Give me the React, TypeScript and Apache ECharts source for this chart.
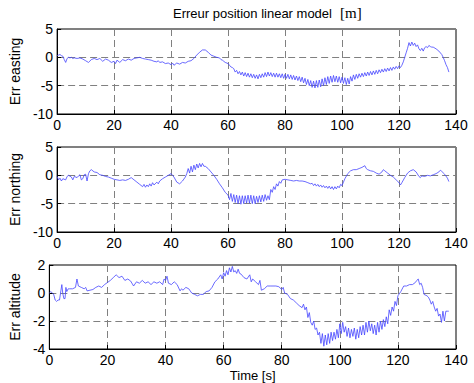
import React, { useEffect, useRef } from "react";
import * as echarts from "echarts";

const xTicks = [0, 20, 40, 60, 80, 100, 120, 140];

const easting: [number, number][] = [
  [0,0.3],[0.5,0.4],[1,0.5],[1.5,0.3],[2,0.2],[2.5,-0.4],[3,-0.9],[3.5,-0.2],[4,0.0],[4.5,-0.1],[5,0.0],[5.5,-0.2],[6,-0.1],[7,-0.2],[8,-0.1],[9,-0.3],[10,-0.6],[11,-0.9],[12,-0.4],[13,-0.2],[14,-0.4],[15,-0.2],[16,-0.7],[17,-0.3],[18,-0.5],[19,-0.9],[20,-0.7],[20.5,-1.1],[21,-0.5],[22,-0.9],[23,-0.4],[24,-0.6],[25,-0.3],[26,-0.5],[27,-0.2],[28,-0.1],[29,0.0],[30,-0.2],[31,-0.3],[32,-0.4],[33,-0.5],[34,-0.7],[35,-0.8],[35.5,-0.6],[36,-0.9],[37,-0.8],[38,-1.1],[39,-1.0],[40,-1.3],[40.5,-1.0],[41,-1.4],[42,-1.0],[43,-1.2],[44,-0.9],[45,-1.0],[46,-0.7],[47,-0.6],[48,-0.2],[49,0.4],[50,0.9],[51,1.3],[52,1.3],[53,0.9],[54,0.4],[55,0.2],[56,0.0],[57,-0.1],[57.5,-0.4],[58,-0.5],[58.5,-0.7],[59,-0.9],[60,-1.1],[60.5,-1.4],[61,-1.7],[61.5,-1.8],
  [62,-2.0],[62.5,-2.6],[63,-2.3],[63.5,-2.9],[64,-2.5],[64.5,-3.1],[65,-2.6],[65.5,-3.3],[66,-2.7],[66.5,-3.4],[67,-2.8],[67.5,-3.5],[68,-2.9],[68.5,-3.6],[69,-3.0],[69.5,-3.7],[70,-3.1],[70.5,-3.8],[71,-3.0],[71.5,-3.6],[72,-2.9],[72.5,-3.5],[73,-2.7],[73.5,-3.4],[74,-2.6],[74.5,-3.3],[75,-2.7],[75.5,-3.4],[76,-2.8],[76.5,-3.5],[77,-2.8],[77.5,-3.5],[78,-2.9],[78.5,-3.6],[79,-2.9],[79.5,-3.7],[80,-3.0],[80.5,-3.7],[81,-3.0],[81.5,-3.8],[82,-3.1],[82.5,-3.9],[83,-3.2],[83.5,-4.0],[84,-3.3],[84.5,-4.1],[85,-3.4],[85.5,-4.3],[86,-3.5],[86.5,-4.5],[87,-3.7],[87.5,-4.8],[88,-3.9],[88.5,-5.0],[89,-4.1],[89.5,-5.3],[90,-4.2],[90.5,-5.4],[91,-4.1],[91.5,-5.3],[92,-4.0],[92.5,-5.2],[93,-3.8],[93.5,-5.0],[94,-3.6],[94.5,-4.8],[95,-3.4],[95.5,-4.6],[96,-3.3],[96.5,-4.4],[97,-3.2],[97.5,-4.3],[98,-3.3],[98.5,-4.4],[99,-3.4],[99.5,-4.5],[100,-3.5],[100.5,-4.6],[101,-3.6],[101.5,-4.8],[102,-3.7],[102.5,-4.7],[103,-3.4],[103.5,-4.2],[104,-3.1],[104.5,-3.9],[105,-3.0],[105.5,-3.7],[106,-2.9],[106.5,-3.5],[107,-2.8],[107.5,-3.4],[108,-2.7],[108.5,-3.3],[109,-2.6],[109.5,-3.2],[110,-2.5],[110.5,-3.1],[111,-2.4],[111.5,-3.0],[112,-2.3],[112.5,-2.9],[113,-2.2],[113.5,-2.7],[114,-2.1],[114.5,-2.6],[115,-2.0],[115.5,-2.5],[116,-1.9],[116.5,-2.4],[117,-1.8],[117.5,-2.3],[118,-1.7],[118.5,-2.1],[119,-1.6],[119.5,-2.0],[120,-1.5],[120.5,-1.8],[121,-1.4],
  [121.5,-0.8],[122,0.0],[122.5,0.8],[123,1.6],[123.5,2.6],[124,2.0],[124.5,2.7],[125,2.1],[125.5,2.5],[126,1.9],[126.5,2.2],[127,1.5],[127.5,1.2],[128,1.6],[128.5,1.1],[129,1.7],[129.5,1.9],[130,1.7],[130.5,2.1],[131,1.9],[131.5,1.8],[132,1.8],[133,1.5],[134,1.1],[135,0.5],[135.5,0.0],[136,-0.6],[136.5,-1.3],[137,-1.8],[137.5,-2.6]
];

const northing: [number, number][] = [
  [0,-0.2],[0.5,-0.8],[1,-0.5],[1.5,-1.0],[2,-0.6],[3,-0.8],[3.5,-0.2],[4,0.0],[5,-0.3],[5.5,-0.8],[6,-0.2],[7,-0.4],[7.5,-0.1],[8,0.1],[8.5,-0.8],[9,-0.6],[9.5,0.1],[10,0.2],[10.5,-1.0],[11,0.3],[11.5,0.8],[12,1.0],[13,0.6],[14,0.5],[15,0.1],[16,0.0],[17,-0.2],[18,-0.3],[19,-0.5],[20,-0.7],[21,-0.8],[22,-0.9],[23,-0.8],[24,-0.9],[25,-0.7],[26,-0.4],[27,-0.8],[28,-1.2],[29,-1.6],[30,-2.0],[30.5,-1.6],[31,-2.1],[31.5,-1.7],[32,-2.0],[32.5,-1.5],[33,-1.9],[33.5,-1.3],[34,-1.7],[35,-1.2],[35.5,-1.5],[36,-1.0],[37,-0.6],[38,-0.3],[39,0.0],[40,0.3],[40.5,0.0],[41,-0.3],[42,-1.2],[43,-1.5],[44,-1.0],[45,-0.3],[45.5,0.3],
  [46,1.2],[46.5,0.4],[47,1.6],[47.5,0.6],[48,1.8],[48.5,1.0],[49,2.0],[49.5,1.3],[50,2.1],[50.5,1.5],[51,2.1],[51.5,1.6],[52,1.6],[53,1.2],[54,0.6],[55,0.0],[56,-0.7],[57,-1.5],[58,-2.2],[59,-3.0],[60,-3.5],
  [60.5,-4.3],[61,-3.2],[61.5,-4.6],[62,-3.4],[62.5,-4.8],[63,-3.5],[63.5,-5.0],[64,-3.6],[64.5,-5.1],[65,-3.6],[65.5,-5.0],[66,-3.6],[66.5,-4.9],[67,-3.5],[67.5,-4.9],[68,-3.5],[68.5,-5.0],[69,-3.6],[69.5,-5.0],[70,-3.7],[70.5,-4.8],[71,-3.6],[71.5,-4.7],[72,-3.5],[72.5,-4.6],[73,-3.4],[73.5,-4.4],[74,-3.6],[74.5,-4.3],[75,-2.5],[75.5,-3.0],[76,-2.0],[76.5,-2.5],[77,-1.5],[77.5,-1.9],[78,-1.1],[78.5,-1.4],[79,-0.8],[80,-0.7],[81,-0.8],[82,-0.9],[83,-1.0],[84,-0.9],[85,-1.0],[86,-1.0],[87,-1.1],[88,-1.3],[89,-1.5],
  [89.5,-1.4],[90,-1.8],[90.5,-1.5],[91,-1.9],[91.5,-1.6],[92,-2.0],[92.5,-1.7],[93,-2.1],[93.5,-1.8],[94,-2.2],[94.5,-1.9],[95,-2.3],[95.5,-1.9],[96,-2.4],[96.5,-2.0],[97,-2.5],[97.5,-2.0],[98,-2.4],[98.5,-1.9],[99,-2.2],[99.5,-1.6],[100,-1.8],[100.5,-1.2],[101,-0.6],[102,0.3],[103,0.8],[104,1.0],[105,1.0],[106,1.2],[107,1.4],[108,1.7],[108.5,1.2],[109,1.0],[110,0.8],[111,0.7],[112,0.4],[113,0.2],[114,0.6],[114.5,1.0],[115,0.8],[116,0.4],[117,0.0],[118,-0.3],[119,-0.8],[120,-1.3],[120.5,-1.7],[121,-1.3],[122,-0.4],[123,0.4],[124,0.8],[125,1.0],[126,0.6],[127,-0.2],[127.5,-0.4],[128,-0.1],[129,-0.2],[130,0.0],[131,-0.1],[132,0.1],[133,0.3],[134,0.6],[134.5,0.9],[135,0.7],[136,0.2],[137,-0.5],[137.5,-1.1]
];

const altitude: [number, number][] = [
  [0,0.0],[0.5,0.1],[1,0.0],[1.5,-0.1],[2,-0.5],[2.5,-0.6],[3,-0.5],[3.5,-0.5],[4,0.2],[4.3,0.6],[4.6,0.0],[5,-0.4],[5.4,-0.4],[5.7,0.4],[6,0.1],[6.5,0.3],[7,0.3],[8,0.3],[9,0.4],[9.5,1.0],[10,0.5],[11,0.4],[12,0.3],[12.5,0.4],[13,0.15],[14,0.2],[15,0.25],[16,0.4],[17,0.5],[18,0.4],[19,0.6],[20,0.75],[21,0.9],[22,1.1],[23,1.3],[24,1.1],[25,1.2],[26,0.9],[27,1.0],[28,0.85],[29,0.5],[30,0.8],[31,0.7],[32,0.9],[33,0.7],[34,0.8],[35,0.6],[36,0.8],[37,0.7],[38,0.8],[39,0.6],[39.5,1.0],[40,0.9],[40.5,1.2],[41,0.7],[42,0.6],[43,0.8],[44,0.6],[45,0.15],[45.5,0.3],[46,0.2],[47,0.4],[48,0.3],[49,0.0],[50,-0.1],[51,-0.2],[52,-0.1],[53,-0.1],[54,0.1],[55,0.15],[56,0.4],[57,0.8],[58,1.0],[59,1.3],[59.5,1.0],[60,1.45],[60.5,1.2],[61,1.6],[61.5,1.3],[62,1.8],[62.5,1.5],[63,1.9],[63.5,1.5],[64,1.6],[64.5,1.4],[65,1.7],[65.5,1.4],[66,1.35],[67,1.1],[68,1.0],[69,1.3],[69.5,0.8],[70,1.0],[71,0.8],[72,0.6],[72.5,0.9],[73,0.2],[74,0.3],[75,0.5],[76,0.5],[77,0.5],[78,0.5],[79,0.45],[80,0.25],[80.5,0.4],[81,0.0],[82,-0.1],[83,-0.4],[84,-0.5],[85,-0.7],[86,-0.9],[87,-1.05],[87.5,-0.8],[88,-1.2],[88.5,-1.0],[89,-1.75],[89.5,-1.4],[90,-2.1],[90.5,-2.3],[91,-2.0],[91.5,-2.6],[92,-2.5],[92.5,-3.0],[93,-2.8],
  [93.5,-3.6],[94,-2.9],[94.5,-3.8],[95,-3.0],[95.5,-3.7],[96,-2.9],[96.5,-3.6],[97,-2.8],[97.5,-3.4],[98,-2.8],[98.5,-3.3],[99,-2.6],[99.5,-3.2],[100,-2.2],[100.5,-2.9],[101,-2.1],[101.5,-2.8],[102,-2.4],[102.5,-3.1],[103,-2.5],[103.5,-3.2],[104,-2.6],[104.5,-3.1],[105,-2.5],[105.5,-3.3],[106,-2.6],[106.5,-3.2],[107,-2.4],[107.5,-3.0],[108,-2.3],[108.5,-3.0],[109,-2.1],[109.5,-2.8],[110,-2.0],[110.5,-2.7],[111,-2.2],[111.5,-2.9],[112,-2.3],[112.5,-3.0],[113,-2.1],[113.5,-2.8],[114,-2.0],[114.5,-2.6],[115,-1.9],[115.5,-2.4],[116,-1.7],[116.5,-2.2],[117,-1.2],[117.5,-1.6],[118,-1.0],[118.5,-1.3],[119,-0.6],[119.5,-0.9],[120,-0.2],[121,0.1],[122,0.5],[123,0.5],[124,0.6],[125,0.6],[126,0.75],[126.5,0.9],[127,1.0],[127.5,0.6],[128,0.7],[128.5,0.4],[129,-0.1],[130,-0.2],[130.5,-0.3],[131,-0.5],[131.5,-0.8],[132,-0.6],[132.5,-1.0],[133,-1.3],[133.5,-1.1],[134,-1.65],[134.5,-1.5],[135,-2.1],[135.5,-1.3],[136,-2.0],[136.5,-1.3],[137,-1.3],[137.5,-1.3]
];

const eastingTicks = [5, 0, -5, -10];
const northingTicks = [5, 0, -5, -10];
const altitudeTicks = [2, 0, -2, -4];

const FONT = "Liberation Sans, Arial, sans-serif";

function makeX(gridIndex: number, showName: boolean) {
  return {
    type: "value",
    gridIndex,
    min: xTicks[0],
    max: xTicks[xTicks.length - 1],
    interval: xTicks[1] - xTicks[0],
    name: showName ? "Time [s]" : "",
    nameLocation: "middle",
    nameGap: 20,
    nameTextStyle: { fontFamily: FONT, fontSize: 13, color: "#000" },
    axisLine: { show: true, onZero: false, lineStyle: { color: "#000", width: 1 } },
    axisTick: { show: true, inside: true, length: 4, lineStyle: { color: "#000" } },
    axisLabel: { fontFamily: FONT, fontSize: 14, color: "#000", margin: 4 },
    splitLine: { show: true, lineStyle: { color: "#808080", type: [7, 4], width: 1 } },
  };
}

function makeY(gridIndex: number, ticks: number[], name: string) {
  const mx = Math.max(...ticks);
  const mn = Math.min(...ticks);
  return {
    type: "value",
    gridIndex,
    min: mn,
    max: mx,
    interval: (mx - mn) / (ticks.length - 1),
    name,
    nameLocation: "middle",
    nameGap: 27,
    nameTextStyle: { fontFamily: FONT, fontSize: 14, color: "#000" },
    axisLine: { show: true, onZero: false, lineStyle: { color: "#000", width: 1 } },
    axisTick: { show: true, inside: true, length: 4, lineStyle: { color: "#000" } },
    axisLabel: { fontFamily: FONT, fontSize: 14, color: "#000", margin: 4 },
    splitLine: { show: true, lineStyle: { color: "#808080", type: [7, 4], width: 1 } },
  };
}

export default function App() {
  const ref = useRef<HTMLDivElement>(null);
  useEffect(() => {
    const chart = echarts.init(ref.current!, null, { renderer: "svg" });
    const lineStyle = { color: "#4545ff", width: 0.8 };
    chart.setOption({
      animation: false,
      backgroundColor: "#fff",
      graphic: [
        {
          type: "text",
          left: 173,
          top: 7,
          style: { text: "Erreur position linear model", fontFamily: FONT, fontSize: 13, fill: "#000" },
        },
        {
          type: "text",
          left: 340,
          top: 5,
          style: { text: "[m]", fontFamily: "Liberation Serif, serif", fontSize: 15, fill: "#000" },
        },
      ],
      grid: [
        { left: 49, top: 29, width: 407, height: 85, show: true, borderColor: "#000", borderWidth: 1 },
        { left: 49, top: 147, width: 407, height: 85, show: true, borderColor: "#000", borderWidth: 1 },
        { left: 49, top: 265, width: 407, height: 84, show: true, borderColor: "#000", borderWidth: 1 },
      ],
      xAxis: [makeX(0, false), makeX(1, false), makeX(2, true)],
      yAxis: [
        makeY(0, eastingTicks, "Err easting"),
        makeY(1, northingTicks, "Err northing"),
        makeY(2, altitudeTicks, "Err altitude"),
      ],
      series: [
        { type: "line", xAxisIndex: 0, yAxisIndex: 0, data: easting, showSymbol: false, symbol: "none", lineStyle },
        { type: "line", xAxisIndex: 1, yAxisIndex: 1, data: northing, showSymbol: false, symbol: "none", lineStyle },
        { type: "line", xAxisIndex: 2, yAxisIndex: 2, data: altitude, showSymbol: false, symbol: "none", lineStyle },
      ],
    });
    return () => chart.dispose();
  }, []);
  return (
    <div
      ref={ref}
      style={{ position: "fixed", left: 0, top: 0, width: 474, height: 383, background: "#fff" }}
    />
  );
}
